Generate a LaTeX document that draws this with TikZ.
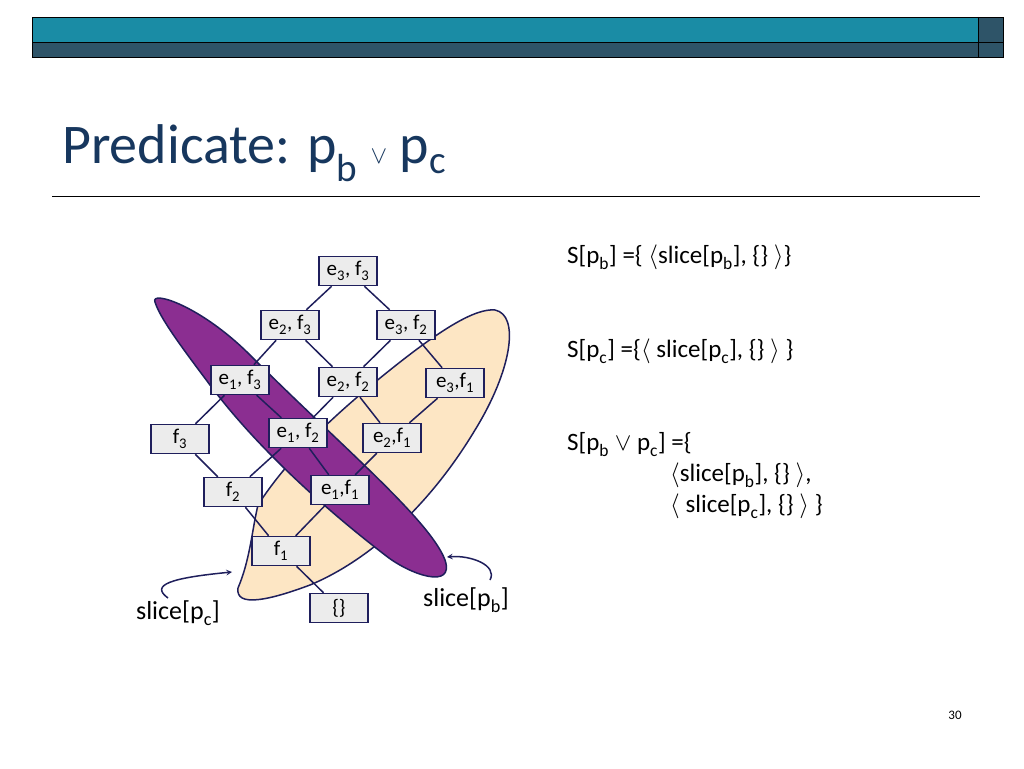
\documentclass[tikz,border=0pt]{standalone}
\usepackage{fontspec}
\setmainfont{Carlito}
\usepackage{amssymb}
\definecolor{teal1}{HTML}{1A8CA5}
\definecolor{dark1}{HTML}{2E5468}
\definecolor{titleblue}{HTML}{17375E}
\definecolor{purp}{HTML}{8B2E91}
\definecolor{beige}{HTML}{FDE6C4}
\definecolor{navy}{HTML}{1F1F5C}
\newcommand{\sbs}[1]{\textsubscript{\raisebox{-0.3ex}{#1}}}
\tikzset{
  st/.style={draw=navy, line width=1.5pt, fill=gray!15, minimum width=58pt, minimum height=29pt, inner sep=1pt, font=\fontsize{21}{23}\selectfont},
  ln/.style={navy, line width=1.5pt},
  txt/.style={anchor=base west, font=\fontsize{25}{28}\selectfont, inner sep=0pt}
}
\begin{document}
\begin{tikzpicture}[x=1pt, y=-1pt]
  \useasboundingbox (0,0) rectangle (1024,768);
  % bande in alto
  \fill[teal1] (32,17) rectangle (978,42);
  \fill[dark1] (978,17) rectangle (1003,42);
  \fill[dark1] (32,42) rectangle (1003,57);
  \draw[black] (32,17) rectangle (1003,57);
  \draw[black] (978,17) -- (978,57) (32,42) -- (1003,42);
  % titolo
  \node[anchor=base west, inner sep=0pt, text=titleblue, font=\fontsize{56}{60}\selectfont] (title) at (62,163) {Predicate: p\sbs{b} $\vee$ p\sbs{c}};
  \draw[black] (52,196) -- (980,196);
  % regioni
  \draw[ln, fill=beige] (495,310) .. controls (520,315) and (512,370) .. (475,430)
    .. controls (430,505) and (370,560) .. (310,585)
    .. controls (270,600) and (235,608) .. (238,588)
    .. controls (250,560) and (252,530) .. (258,505)
    .. controls (290,455) and (340,410) .. (390,370)
    .. controls (440,330) and (475,308) .. (495,310) -- cycle;
  \draw[ln, fill=purp] (155,302) .. controls (150,290) and (200,305) .. (250,355)
    .. controls (340,445) and (430,520) .. (445,560)
    .. controls (455,590) and (410,575) .. (385,555)
    .. controls (320,505) and (255,445) .. (210,385)
    .. controls (180,345) and (160,318) .. (155,302) -- cycle;
  % nodi
  \node[st] (e3f3) at (348,271) {e\sbs{3}, f\sbs{3}};
  \node[st] (e2f3) at (290,325) {e\sbs{2}, f\sbs{3}};
  \node[st] (e3f2) at (406,325) {e\sbs{3}, f\sbs{2}};
  \node[st] (e1f3) at (240,380) {e\sbs{1}, f\sbs{3}};
  \node[st] (e2f2) at (348,382) {e\sbs{2}, f\sbs{2}};
  \node[st] (e3f1) at (455,383) {e\sbs{3},f\sbs{1}};
  \node[st] (f3) at (180,439) {f\sbs{3}};
  \node[st] (e1f2) at (298,433) {e\sbs{1}, f\sbs{2}};
  \node[st] (e2f1) at (392,438) {e\sbs{2},f\sbs{1}};
  \node[st] (f2) at (233,492) {f\sbs{2}};
  \node[st] (e1f1) at (340,490) {e\sbs{1},f\sbs{1}};
  \node[st] (f1) at (281,551) {f\sbs{1}};
  \node[st] (empty) at (339,608) {\{\}};
  % archi
  \foreach \a/\b in {e3f3/e2f3, e3f3/e3f2, e2f3/e1f3, e2f3/e2f2, e3f2/e2f2, e3f2/e3f1,
      e1f3/f3, e1f3/e1f2, e2f2/e1f2, e2f2/e2f1, e3f1/e2f1, f3/f2, e1f2/f2, e1f2/e1f1,
      e2f1/e1f1, f2/f1, e1f1/f1, f1/empty}
    \draw[ln] (\a) -- (\b);
  % ridisegna i nodi sopra gli archi
  \foreach \n/\t in {e3f3/{e\sbs{3}, f\sbs{3}}, e2f3/{e\sbs{2}, f\sbs{3}},
      e3f2/{e\sbs{3}, f\sbs{2}}, e1f3/{e\sbs{1}, f\sbs{3}},
      e2f2/{e\sbs{2}, f\sbs{2}}, e3f1/{e\sbs{3},f\sbs{1}},
      f3/{f\sbs{3}}, e1f2/{e\sbs{1}, f\sbs{2}},
      e2f1/{e\sbs{2},f\sbs{1}}, f2/{f\sbs{2}},
      e1f1/{e\sbs{1},f\sbs{1}}, f1/{f\sbs{1}}, empty/{\{\}}}
    \node[st] at (\n) {\t};
  % etichette
  \node[font=\fontsize{26}{28}\selectfont] (slc) at (178,613) {slice[p\sbs{c}]};
  \node[font=\fontsize{26}{28}\selectfont] (slb) at (466,600) {slice[p\sbs{b}]};
  \coordinate (tc) at (232,572);
  \coordinate (tb) at (447,557);
  \coordinate (oc) at (168,598);
  \coordinate (ob) at (490,580);
  \draw[ln, -stealth] (oc) .. controls (150,585) and (170,578) .. (tc);
  \draw[ln, -stealth] (ob) .. controls (498,565) and (470,555) .. (tb);
  % testo a destra
  \node[txt] (s1) at (567,263) {S[p\sbs{b}] =\{ $\langle$slice[p\sbs{b}], \{\} $\rangle$\}};
  \node[txt] (s2) at (567,357) {S[p\sbs{c}] =\{$\langle$ slice[p\sbs{c}], \{\} $\rangle$ \}};
  \node[txt] (s3) at (567,450) {S[p\sbs{b} $\vee$ p\sbs{c}] =\{};
  \node[txt] (s4) at (670,481) {$\langle$slice[p\sbs{b}], \{\} $\rangle$,};
  \node[txt] (s5) at (670,512) {$\langle$ slice[p\sbs{c}], \{\} $\rangle$ \}};
  \node[font=\fontsize{13}{15}\selectfont] (num) at (955,715) {30};
\end{tikzpicture}
\end{document}
